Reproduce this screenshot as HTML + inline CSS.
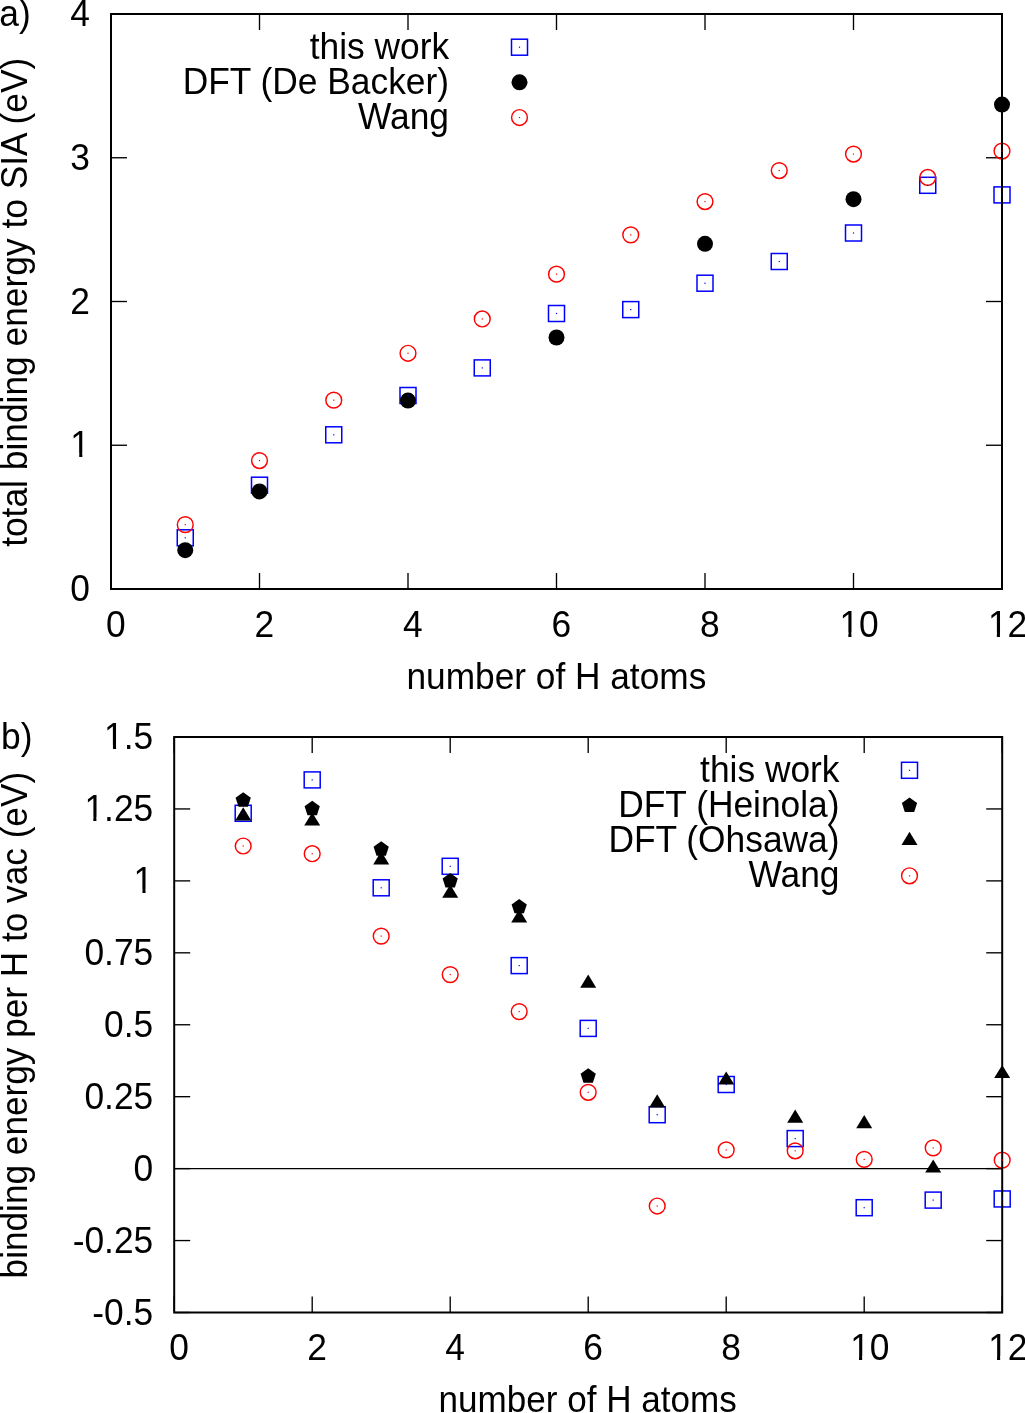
<!DOCTYPE html><html><head><meta charset="utf-8"><title>Binding energies</title><style>html,body{margin:0;padding:0;background:#fff;}svg{display:block;}text{font-family:"Liberation Sans", Arial, Helvetica, sans-serif;fill:#000;}</style></head><body>
<svg width="1025" height="1413" viewBox="0 0 1025 1413">
<rect width="1025" height="1413" fill="#fff"/>
<g stroke="#000" stroke-width="1.35"><line x1="111.00" y1="589.00" x2="111.00" y2="573.00"/><line x1="111.00" y1="14.00" x2="111.00" y2="30.00"/><line x1="259.50" y1="589.00" x2="259.50" y2="573.00"/><line x1="259.50" y1="14.00" x2="259.50" y2="30.00"/><line x1="408.00" y1="589.00" x2="408.00" y2="573.00"/><line x1="408.00" y1="14.00" x2="408.00" y2="30.00"/><line x1="556.50" y1="589.00" x2="556.50" y2="573.00"/><line x1="556.50" y1="14.00" x2="556.50" y2="30.00"/><line x1="705.00" y1="589.00" x2="705.00" y2="573.00"/><line x1="705.00" y1="14.00" x2="705.00" y2="30.00"/><line x1="853.50" y1="589.00" x2="853.50" y2="573.00"/><line x1="853.50" y1="14.00" x2="853.50" y2="30.00"/><line x1="1002.00" y1="589.00" x2="1002.00" y2="573.00"/><line x1="1002.00" y1="14.00" x2="1002.00" y2="30.00"/><line x1="111.00" y1="589.00" x2="127.00" y2="589.00"/><line x1="1002.00" y1="589.00" x2="986.00" y2="589.00"/><line x1="111.00" y1="445.25" x2="127.00" y2="445.25"/><line x1="1002.00" y1="445.25" x2="986.00" y2="445.25"/><line x1="111.00" y1="301.50" x2="127.00" y2="301.50"/><line x1="1002.00" y1="301.50" x2="986.00" y2="301.50"/><line x1="111.00" y1="157.75" x2="127.00" y2="157.75"/><line x1="1002.00" y1="157.75" x2="986.00" y2="157.75"/><line x1="111.00" y1="14.00" x2="127.00" y2="14.00"/><line x1="1002.00" y1="14.00" x2="986.00" y2="14.00"/></g>
<text transform="translate(90.00,601.00) scale(1.01,1.03)" text-anchor="end" font-size="35" >0</text>
<text transform="translate(90.00,457.25) scale(1.01,1.03)" text-anchor="end" font-size="35" >1</text><g transform="translate(90.00,457.25) scale(1.01,1.03)" fill="#fff"><rect x="-17.927" y="-3.931" width="7.263" height="5.127"/><rect x="-7.571" y="-3.931" width="7.075" height="5.127"/></g>
<text transform="translate(90.00,313.50) scale(1.01,1.03)" text-anchor="end" font-size="35" >2</text>
<text transform="translate(90.00,169.75) scale(1.01,1.03)" text-anchor="end" font-size="35" >3</text>
<text transform="translate(90.00,26.00) scale(1.01,1.03)" text-anchor="end" font-size="35" >4</text>
<text transform="translate(115.80,636.50) scale(1.01,1.03)" text-anchor="middle" font-size="35" >0</text>
<text transform="translate(264.30,636.50) scale(1.01,1.03)" text-anchor="middle" font-size="35" >2</text>
<text transform="translate(412.80,636.50) scale(1.01,1.03)" text-anchor="middle" font-size="35" >4</text>
<text transform="translate(561.30,636.50) scale(1.01,1.03)" text-anchor="middle" font-size="35" >6</text>
<text transform="translate(709.80,636.50) scale(1.01,1.03)" text-anchor="middle" font-size="35" >8</text>
<text transform="translate(859.10,636.50) scale(1.01,1.03)" text-anchor="middle" font-size="35" >10</text><g transform="translate(859.10,636.50) scale(1.01,1.03)" fill="#fff"><rect x="-17.927" y="-3.931" width="7.263" height="5.127"/><rect x="-7.571" y="-3.931" width="7.075" height="5.127"/></g>
<text transform="translate(1007.60,636.50) scale(1.01,1.03)" text-anchor="middle" font-size="35" >12</text><g transform="translate(1007.60,636.50) scale(1.01,1.03)" fill="#fff"><rect x="-17.927" y="-3.931" width="7.263" height="5.127"/><rect x="-7.571" y="-3.931" width="7.075" height="5.127"/></g>
<text transform="translate(556.35,689.00) scale(1.0076,1.03)" text-anchor="middle" font-size="35" >number of H atoms</text>
<text transform="translate(27.00,302.30) rotate(-90) scale(1.01,1.03)" text-anchor="middle" font-size="35" >total binding energy to SIA (eV)</text>
<text transform="translate(-0.70,26.00) scale(1.01,1.03)" text-anchor="start" font-size="35" >a)</text>
<text transform="translate(449.10,59.30) scale(1.01,1.03)" text-anchor="end" font-size="35" >this work</text>
<text transform="translate(449.00,94.30) scale(1.01,1.03)" text-anchor="end" font-size="35" >DFT (De Backer)</text>
<text transform="translate(449.00,129.30) scale(1.01,1.03)" text-anchor="end" font-size="35" >Wang</text>
<rect x="511.50" y="39.20" width="16.00" height="16.00" fill="none" stroke="#0000ff" stroke-width="1.5"/><rect x="177.25" y="529.80" width="16.00" height="16.00" fill="none" stroke="#0000ff" stroke-width="1.5"/><rect x="251.50" y="477.20" width="16.00" height="16.00" fill="none" stroke="#0000ff" stroke-width="1.5"/><rect x="325.75" y="426.80" width="16.00" height="16.00" fill="none" stroke="#0000ff" stroke-width="1.5"/><rect x="400.00" y="387.50" width="16.00" height="16.00" fill="none" stroke="#0000ff" stroke-width="1.5"/><rect x="474.25" y="359.90" width="16.00" height="16.00" fill="none" stroke="#0000ff" stroke-width="1.5"/><rect x="548.50" y="305.50" width="16.00" height="16.00" fill="none" stroke="#0000ff" stroke-width="1.5"/><rect x="622.75" y="301.60" width="16.00" height="16.00" fill="none" stroke="#0000ff" stroke-width="1.5"/><rect x="697.00" y="275.20" width="16.00" height="16.00" fill="none" stroke="#0000ff" stroke-width="1.5"/><rect x="771.25" y="253.50" width="16.00" height="16.00" fill="none" stroke="#0000ff" stroke-width="1.5"/><rect x="845.50" y="225.00" width="16.00" height="16.00" fill="none" stroke="#0000ff" stroke-width="1.5"/><rect x="919.75" y="177.30" width="16.00" height="16.00" fill="none" stroke="#0000ff" stroke-width="1.5"/><rect x="994.00" y="186.90" width="16.00" height="16.00" fill="none" stroke="#0000ff" stroke-width="1.5"/><circle cx="519.50" cy="82.30" r="8.00" fill="#000000"/><circle cx="185.25" cy="550.20" r="8.00" fill="#000000"/><circle cx="259.50" cy="491.40" r="8.00" fill="#000000"/><circle cx="408.00" cy="400.60" r="8.00" fill="#000000"/><circle cx="556.50" cy="337.50" r="8.00" fill="#000000"/><circle cx="705.00" cy="243.80" r="8.00" fill="#000000"/><circle cx="853.50" cy="199.20" r="8.00" fill="#000000"/><circle cx="1002.00" cy="104.60" r="8.00" fill="#000000"/><circle cx="519.50" cy="117.50" r="7.90" fill="none" stroke="#ff0000" stroke-width="1.45"/><circle cx="185.25" cy="524.65" r="7.90" fill="none" stroke="#ff0000" stroke-width="1.45"/><circle cx="259.50" cy="460.55" r="7.90" fill="none" stroke="#ff0000" stroke-width="1.45"/><circle cx="333.75" cy="400.15" r="7.90" fill="none" stroke="#ff0000" stroke-width="1.45"/><circle cx="408.00" cy="353.25" r="7.90" fill="none" stroke="#ff0000" stroke-width="1.45"/><circle cx="482.25" cy="318.95" r="7.90" fill="none" stroke="#ff0000" stroke-width="1.45"/><circle cx="556.50" cy="274.15" r="7.90" fill="none" stroke="#ff0000" stroke-width="1.45"/><circle cx="630.75" cy="234.85" r="7.90" fill="none" stroke="#ff0000" stroke-width="1.45"/><circle cx="705.00" cy="201.55" r="7.90" fill="none" stroke="#ff0000" stroke-width="1.45"/><circle cx="779.25" cy="170.55" r="7.90" fill="none" stroke="#ff0000" stroke-width="1.45"/><circle cx="853.50" cy="154.05" r="7.90" fill="none" stroke="#ff0000" stroke-width="1.45"/><circle cx="927.75" cy="177.45" r="7.90" fill="none" stroke="#ff0000" stroke-width="1.45"/><circle cx="1002.00" cy="151.05" r="7.90" fill="none" stroke="#ff0000" stroke-width="1.45"/>
<rect x="111.0" y="14.0" width="891.0" height="575.0" fill="none" stroke="#000" stroke-width="2"/>
<rect x="518.90" y="46.60" width="1.2" height="1.2" fill="#0000ff"/><rect x="184.65" y="537.20" width="1.2" height="1.2" fill="#0000ff"/><rect x="258.90" y="484.60" width="1.2" height="1.2" fill="#0000ff"/><rect x="333.15" y="434.20" width="1.2" height="1.2" fill="#0000ff"/><rect x="407.40" y="394.90" width="1.2" height="1.2" fill="#0000ff"/><rect x="481.65" y="367.30" width="1.2" height="1.2" fill="#0000ff"/><rect x="555.90" y="312.90" width="1.2" height="1.2" fill="#0000ff"/><rect x="630.15" y="309.00" width="1.2" height="1.2" fill="#0000ff"/><rect x="704.40" y="282.60" width="1.2" height="1.2" fill="#0000ff"/><rect x="778.65" y="260.90" width="1.2" height="1.2" fill="#0000ff"/><rect x="852.90" y="232.40" width="1.2" height="1.2" fill="#0000ff"/><rect x="927.15" y="184.70" width="1.2" height="1.2" fill="#0000ff"/><rect x="1001.40" y="194.30" width="1.2" height="1.2" fill="#0000ff"/><rect x="518.90" y="116.90" width="1.2" height="1.2" fill="#ff0000"/><rect x="184.65" y="524.05" width="1.2" height="1.2" fill="#ff0000"/><rect x="258.90" y="459.95" width="1.2" height="1.2" fill="#ff0000"/><rect x="333.15" y="399.55" width="1.2" height="1.2" fill="#ff0000"/><rect x="407.40" y="352.65" width="1.2" height="1.2" fill="#ff0000"/><rect x="481.65" y="318.35" width="1.2" height="1.2" fill="#ff0000"/><rect x="555.90" y="273.55" width="1.2" height="1.2" fill="#ff0000"/><rect x="630.15" y="234.25" width="1.2" height="1.2" fill="#ff0000"/><rect x="704.40" y="200.95" width="1.2" height="1.2" fill="#ff0000"/><rect x="778.65" y="169.95" width="1.2" height="1.2" fill="#ff0000"/><rect x="852.90" y="153.45" width="1.2" height="1.2" fill="#ff0000"/><rect x="927.15" y="176.85" width="1.2" height="1.2" fill="#ff0000"/><rect x="1001.40" y="150.45" width="1.2" height="1.2" fill="#ff0000"/>
<g stroke="#000" stroke-width="1.35"><line x1="174.20" y1="1312.50" x2="174.20" y2="1296.50"/><line x1="174.20" y1="737.00" x2="174.20" y2="753.00"/><line x1="312.20" y1="1312.50" x2="312.20" y2="1296.50"/><line x1="312.20" y1="737.00" x2="312.20" y2="753.00"/><line x1="450.20" y1="1312.50" x2="450.20" y2="1296.50"/><line x1="450.20" y1="737.00" x2="450.20" y2="753.00"/><line x1="588.20" y1="1312.50" x2="588.20" y2="1296.50"/><line x1="588.20" y1="737.00" x2="588.20" y2="753.00"/><line x1="726.20" y1="1312.50" x2="726.20" y2="1296.50"/><line x1="726.20" y1="737.00" x2="726.20" y2="753.00"/><line x1="864.20" y1="1312.50" x2="864.20" y2="1296.50"/><line x1="864.20" y1="737.00" x2="864.20" y2="753.00"/><line x1="1002.20" y1="1312.50" x2="1002.20" y2="1296.50"/><line x1="1002.20" y1="737.00" x2="1002.20" y2="753.00"/><line x1="174.20" y1="1312.50" x2="190.20" y2="1312.50"/><line x1="1002.20" y1="1312.50" x2="986.20" y2="1312.50"/><line x1="174.20" y1="1240.56" x2="190.20" y2="1240.56"/><line x1="1002.20" y1="1240.56" x2="986.20" y2="1240.56"/><line x1="174.20" y1="1168.62" x2="190.20" y2="1168.62"/><line x1="1002.20" y1="1168.62" x2="986.20" y2="1168.62"/><line x1="174.20" y1="1096.69" x2="190.20" y2="1096.69"/><line x1="1002.20" y1="1096.69" x2="986.20" y2="1096.69"/><line x1="174.20" y1="1024.75" x2="190.20" y2="1024.75"/><line x1="1002.20" y1="1024.75" x2="986.20" y2="1024.75"/><line x1="174.20" y1="952.81" x2="190.20" y2="952.81"/><line x1="1002.20" y1="952.81" x2="986.20" y2="952.81"/><line x1="174.20" y1="880.88" x2="190.20" y2="880.88"/><line x1="1002.20" y1="880.88" x2="986.20" y2="880.88"/><line x1="174.20" y1="808.94" x2="190.20" y2="808.94"/><line x1="1002.20" y1="808.94" x2="986.20" y2="808.94"/><line x1="174.20" y1="737.00" x2="190.20" y2="737.00"/><line x1="1002.20" y1="737.00" x2="986.20" y2="737.00"/><line x1="174.20" y1="1168.62" x2="1002.20" y2="1168.62"/></g>
<text transform="translate(153.20,1324.90) scale(1.01,1.03)" text-anchor="end" font-size="35" >-0.5</text>
<text transform="translate(153.20,1252.96) scale(1.01,1.03)" text-anchor="end" font-size="35" >-0.25</text>
<text transform="translate(153.20,1181.03) scale(1.01,1.03)" text-anchor="end" font-size="35" >0</text>
<text transform="translate(153.20,1109.09) scale(1.01,1.03)" text-anchor="end" font-size="35" >0.25</text>
<text transform="translate(153.20,1037.15) scale(1.01,1.03)" text-anchor="end" font-size="35" >0.5</text>
<text transform="translate(153.20,965.21) scale(1.01,1.03)" text-anchor="end" font-size="35" >0.75</text>
<text transform="translate(153.20,893.27) scale(1.01,1.03)" text-anchor="end" font-size="35" >1</text><g transform="translate(153.20,893.27) scale(1.01,1.03)" fill="#fff"><rect x="-17.927" y="-3.931" width="7.263" height="5.127"/><rect x="-7.571" y="-3.931" width="7.075" height="5.127"/></g>
<text transform="translate(153.20,821.34) scale(1.01,1.03)" text-anchor="end" font-size="35" >1.25</text><g transform="translate(153.20,821.34) scale(1.01,1.03)" fill="#fff"><rect x="-66.582" y="-3.931" width="7.263" height="5.127"/><rect x="-56.226" y="-3.931" width="7.075" height="5.127"/></g>
<text transform="translate(153.20,749.40) scale(1.01,1.03)" text-anchor="end" font-size="35" >1.5</text><g transform="translate(153.20,749.40) scale(1.01,1.03)" fill="#fff"><rect x="-47.117" y="-3.931" width="7.263" height="5.127"/><rect x="-36.760" y="-3.931" width="7.075" height="5.127"/></g>
<text transform="translate(179.00,1360.00) scale(1.01,1.03)" text-anchor="middle" font-size="35" >0</text>
<text transform="translate(317.00,1360.00) scale(1.01,1.03)" text-anchor="middle" font-size="35" >2</text>
<text transform="translate(455.00,1360.00) scale(1.01,1.03)" text-anchor="middle" font-size="35" >4</text>
<text transform="translate(593.00,1360.00) scale(1.01,1.03)" text-anchor="middle" font-size="35" >6</text>
<text transform="translate(731.00,1360.00) scale(1.01,1.03)" text-anchor="middle" font-size="35" >8</text>
<text transform="translate(869.80,1360.00) scale(1.01,1.03)" text-anchor="middle" font-size="35" >10</text><g transform="translate(869.80,1360.00) scale(1.01,1.03)" fill="#fff"><rect x="-17.927" y="-3.931" width="7.263" height="5.127"/><rect x="-7.571" y="-3.931" width="7.075" height="5.127"/></g>
<text transform="translate(1007.80,1360.00) scale(1.01,1.03)" text-anchor="middle" font-size="35" >12</text><g transform="translate(1007.80,1360.00) scale(1.01,1.03)" fill="#fff"><rect x="-17.927" y="-3.931" width="7.263" height="5.127"/><rect x="-7.571" y="-3.931" width="7.075" height="5.127"/></g>
<text transform="translate(587.70,1412.30) scale(1.0025,1.03)" text-anchor="middle" font-size="35" >number of H atoms</text>
<text transform="translate(26.50,1025.15) rotate(-90) scale(1.0058,1.03)" text-anchor="middle" font-size="35" >binding energy per H to vac (eV)</text>
<text transform="translate(1.00,749.00) scale(1.01,1.03)" text-anchor="start" font-size="35" >b)</text>
<text transform="translate(839.50,782.00) scale(1.01,1.03)" text-anchor="end" font-size="35" >this work</text>
<text transform="translate(839.50,817.00) scale(1.01,1.03)" text-anchor="end" font-size="35" >DFT (Heinola)</text>
<text transform="translate(839.50,852.00) scale(1.01,1.03)" text-anchor="end" font-size="35" >DFT (Ohsawa)</text>
<text transform="translate(839.50,887.00) scale(1.01,1.03)" text-anchor="end" font-size="35" >Wang</text>
<rect x="901.50" y="762.30" width="16.00" height="16.00" fill="none" stroke="#0000ff" stroke-width="1.5"/><rect x="235.20" y="805.30" width="16.00" height="16.00" fill="none" stroke="#0000ff" stroke-width="1.5"/><rect x="304.20" y="771.90" width="16.00" height="16.00" fill="none" stroke="#0000ff" stroke-width="1.5"/><rect x="373.20" y="879.80" width="16.00" height="16.00" fill="none" stroke="#0000ff" stroke-width="1.5"/><rect x="442.20" y="858.30" width="16.00" height="16.00" fill="none" stroke="#0000ff" stroke-width="1.5"/><rect x="511.20" y="957.60" width="16.00" height="16.00" fill="none" stroke="#0000ff" stroke-width="1.5"/><rect x="580.20" y="1020.40" width="16.00" height="16.00" fill="none" stroke="#0000ff" stroke-width="1.5"/><rect x="649.20" y="1106.70" width="16.00" height="16.00" fill="none" stroke="#0000ff" stroke-width="1.5"/><rect x="718.20" y="1076.50" width="16.00" height="16.00" fill="none" stroke="#0000ff" stroke-width="1.5"/><rect x="787.20" y="1130.60" width="16.00" height="16.00" fill="none" stroke="#0000ff" stroke-width="1.5"/><rect x="856.20" y="1199.70" width="16.00" height="16.00" fill="none" stroke="#0000ff" stroke-width="1.5"/><rect x="925.20" y="1192.10" width="16.00" height="16.00" fill="none" stroke="#0000ff" stroke-width="1.5"/><rect x="994.20" y="1190.95" width="16.00" height="16.00" fill="none" stroke="#0000ff" stroke-width="1.5"/><polygon points="909.50,797.50 917.11,803.03 914.20,811.97 904.80,811.97 901.89,803.03" fill="#000"/><polygon points="243.20,792.20 250.81,797.73 247.90,806.67 238.50,806.67 235.59,797.73" fill="#000"/><polygon points="312.20,800.70 319.81,806.23 316.90,815.17 307.50,815.17 304.59,806.23" fill="#000"/><polygon points="381.20,841.20 388.81,846.73 385.90,855.67 376.50,855.67 373.59,846.73" fill="#000"/><polygon points="450.20,873.00 457.81,878.53 454.90,887.47 445.50,887.47 442.59,878.53" fill="#000"/><polygon points="519.20,898.90 526.81,904.43 523.90,913.37 514.50,913.37 511.59,904.43" fill="#000"/><polygon points="588.20,1068.30 595.81,1073.83 592.90,1082.77 583.50,1082.77 580.59,1073.83" fill="#000"/><polygon points="901.50,844.90 909.50,831.70 917.50,844.90" fill="#000"/><polygon points="235.20,820.40 243.20,807.20 251.20,820.40" fill="#000"/><polygon points="304.20,825.60 312.20,812.40 320.20,825.60" fill="#000"/><polygon points="373.20,864.40 381.20,851.20 389.20,864.40" fill="#000"/><polygon points="442.20,897.80 450.20,884.60 458.20,897.80" fill="#000"/><polygon points="511.20,922.40 519.20,909.20 527.20,922.40" fill="#000"/><polygon points="580.20,987.70 588.20,974.50 596.20,987.70" fill="#000"/><polygon points="649.20,1107.50 657.20,1094.30 665.20,1107.50" fill="#000"/><polygon points="718.20,1084.60 726.20,1071.40 734.20,1084.60" fill="#000"/><polygon points="787.20,1122.70 795.20,1109.50 803.20,1122.70" fill="#000"/><polygon points="856.20,1128.30 864.20,1115.10 872.20,1128.30" fill="#000"/><polygon points="925.20,1172.60 933.20,1159.40 941.20,1172.60" fill="#000"/><polygon points="994.20,1078.10 1002.20,1064.90 1010.20,1078.10" fill="#000"/><circle cx="909.50" cy="875.80" r="7.90" fill="none" stroke="#ff0000" stroke-width="1.45"/><circle cx="243.20" cy="846.00" r="7.90" fill="none" stroke="#ff0000" stroke-width="1.45"/><circle cx="312.20" cy="853.70" r="7.90" fill="none" stroke="#ff0000" stroke-width="1.45"/><circle cx="381.20" cy="936.10" r="7.90" fill="none" stroke="#ff0000" stroke-width="1.45"/><circle cx="450.20" cy="974.60" r="7.90" fill="none" stroke="#ff0000" stroke-width="1.45"/><circle cx="519.20" cy="1011.60" r="7.90" fill="none" stroke="#ff0000" stroke-width="1.45"/><circle cx="588.20" cy="1092.30" r="7.90" fill="none" stroke="#ff0000" stroke-width="1.45"/><circle cx="657.20" cy="1206.00" r="7.90" fill="none" stroke="#ff0000" stroke-width="1.45"/><circle cx="726.20" cy="1149.90" r="7.90" fill="none" stroke="#ff0000" stroke-width="1.45"/><circle cx="795.20" cy="1150.80" r="7.90" fill="none" stroke="#ff0000" stroke-width="1.45"/><circle cx="864.20" cy="1159.40" r="7.90" fill="none" stroke="#ff0000" stroke-width="1.45"/><circle cx="933.20" cy="1147.90" r="7.90" fill="none" stroke="#ff0000" stroke-width="1.45"/><circle cx="1002.20" cy="1160.10" r="7.90" fill="none" stroke="#ff0000" stroke-width="1.45"/>
<rect x="174.2" y="737.0" width="828.0" height="575.5" fill="none" stroke="#000" stroke-width="2"/>
<rect x="908.90" y="769.70" width="1.2" height="1.2" fill="#0000ff"/><rect x="242.60" y="812.70" width="1.2" height="1.2" fill="#0000ff"/><rect x="311.60" y="779.30" width="1.2" height="1.2" fill="#0000ff"/><rect x="380.60" y="887.20" width="1.2" height="1.2" fill="#0000ff"/><rect x="449.60" y="865.70" width="1.2" height="1.2" fill="#0000ff"/><rect x="518.60" y="965.00" width="1.2" height="1.2" fill="#0000ff"/><rect x="587.60" y="1027.80" width="1.2" height="1.2" fill="#0000ff"/><rect x="656.60" y="1114.10" width="1.2" height="1.2" fill="#0000ff"/><rect x="725.60" y="1083.90" width="1.2" height="1.2" fill="#0000ff"/><rect x="794.60" y="1138.00" width="1.2" height="1.2" fill="#0000ff"/><rect x="863.60" y="1207.10" width="1.2" height="1.2" fill="#0000ff"/><rect x="932.60" y="1199.50" width="1.2" height="1.2" fill="#0000ff"/><rect x="1001.60" y="1198.35" width="1.2" height="1.2" fill="#0000ff"/><rect x="908.90" y="875.20" width="1.2" height="1.2" fill="#ff0000"/><rect x="242.60" y="845.40" width="1.2" height="1.2" fill="#ff0000"/><rect x="311.60" y="853.10" width="1.2" height="1.2" fill="#ff0000"/><rect x="380.60" y="935.50" width="1.2" height="1.2" fill="#ff0000"/><rect x="449.60" y="974.00" width="1.2" height="1.2" fill="#ff0000"/><rect x="518.60" y="1011.00" width="1.2" height="1.2" fill="#ff0000"/><rect x="587.60" y="1091.70" width="1.2" height="1.2" fill="#ff0000"/><rect x="656.60" y="1205.40" width="1.2" height="1.2" fill="#ff0000"/><rect x="725.60" y="1149.30" width="1.2" height="1.2" fill="#ff0000"/><rect x="794.60" y="1150.20" width="1.2" height="1.2" fill="#ff0000"/><rect x="863.60" y="1158.80" width="1.2" height="1.2" fill="#ff0000"/><rect x="932.60" y="1147.30" width="1.2" height="1.2" fill="#ff0000"/><rect x="1001.60" y="1159.50" width="1.2" height="1.2" fill="#ff0000"/>
</svg></body></html>
